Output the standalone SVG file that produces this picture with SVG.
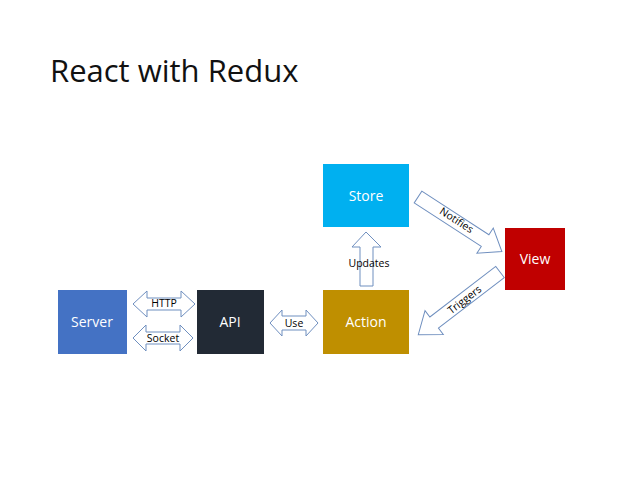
<svg xmlns="http://www.w3.org/2000/svg" width="638" height="478" viewBox="0 0 638 478">
<style>
.t{font-family:"Open Sans","Liberation Sans",sans-serif;fill:#fff;font-size:14px;text-anchor:middle}
.l{font-family:"Open Sans","Liberation Sans",sans-serif;fill:#000;font-size:10.5px;text-anchor:middle}
.a{fill:#fff;stroke:#6f8fbf;stroke-width:1}
</style>
<rect width="638" height="478" fill="#fff"/>
<text x="50" y="82" font-family="Open Sans, Liberation Sans, sans-serif" font-size="31" fill="#111">React with Redux</text>
<g id="connectors">
<polygon class="a" points="133,304 147,291 147,298 181,298 181,291 195,304 181,317 181,310 147,310 147,317"/>
<text class="l" x="164" y="307">HTTP</text>
<polygon class="a" points="133,338 146,325 146,332 180,332 180,325 193,338 180,351 180,344 146,344 146,351"/>
<text class="l" x="163" y="342">Socket</text>
<polygon class="a" points="270,323 282,310 282,316 306,316 306,310 318,323 306,336 306,330 282,330 282,336"/>
<text class="l" x="294" y="327">Use</text>
<polygon class="a" points="360,286 360,247 352,247 366,232 381,247 373,247 373,286"/>
<text class="l" x="369" y="267">Updates</text>
<g transform="translate(418,197) rotate(33)">
<polygon class="a" points="0,-7 80,-7 80,-15 100,0 80,15 80,7 0,7"/>
<text class="l" x="45" y="-12" transform="translate(0,14)">Notifies</text>
</g>
<g transform="translate(500,272) rotate(142.5)">
<polygon class="a" points="0,-7 83,-7 83,-15 103,0 83,15 83,7 0,7"/>
<text class="l" x="45" y="4" transform="rotate(180 45 0)">Triggers</text>
</g>
</g>
<g id="store"><rect x="323" y="164" width="86" height="63" fill="#00b0f0"/><text class="t" x="366" y="201">Store</text></g>
<g id="view"><rect x="505" y="228" width="60" height="62" fill="#c00000"/><text class="t" x="535" y="264">View</text></g>
<g id="action"><rect x="323" y="290" width="86" height="64" fill="#bf8f00"/><text class="t" x="366" y="327">Action</text></g>
<g id="server"><rect x="58" y="290" width="69" height="64" fill="#4472c4"/><text class="t" x="92" y="327">Server</text></g>
<g id="api"><rect x="197" y="290" width="67" height="64" fill="#222a35"/><text class="t" x="230" y="327">API</text></g>
</svg>
